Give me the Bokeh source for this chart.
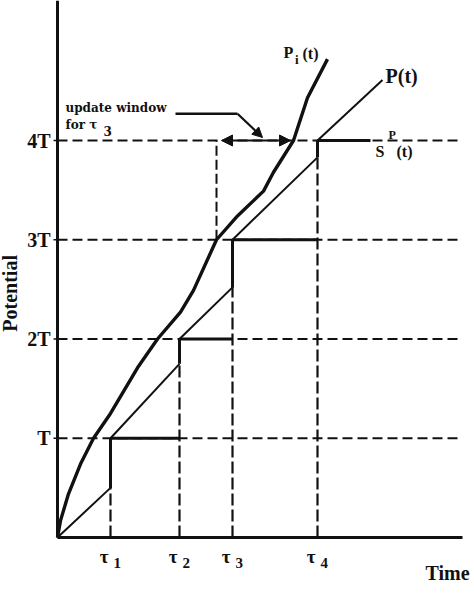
import math
from bokeh.plotting import figure
from bokeh.models import Range1d, Arrow, NormalHead
from bokeh.core.properties import value
from bokeh.embed import file_html
from bokeh.resources import INLINE

# ---------------- data ----------------
levels = [1, 2, 3, 4]
level_labels = ["T", "2T", "3T", "4T"]
tau = [0.53, 1.22, 1.75, 2.60]
tau_sub = ["1", "2", "3", "4"]
# P(t): each piece starts at the reached level and ends just before the next crossing
p_end_y = [0.50, 1.75, 2.52, 3.83, 4.61]
p_last_x = 3.25
# P_i(t): local potential
pi_t = [0.0, 0.03, 0.11, 0.23, 0.36, 0.53, 0.80, 1.00, 1.23, 1.36, 1.59,
        1.80, 2.06, 2.16, 2.36, 2.50, 2.70]
pi_v = [0.0, 0.17, 0.44, 0.74, 1.00, 1.25, 1.71, 2.00, 2.27, 2.49, 3.00,
        3.24, 3.49, 3.68, 4.00, 4.43, 4.82]
# update window for tau_3 (P_i crosses 3T and 4T)
win_left = 1.59
win_right = 2.36
sp_end = 3.13          # end of last S^P(t) step before its label
x_max = 4.05
caption = "Behavior of the local potential and system potential for the"

# ---------------- scale helpers (pixels -> data) ----------------
PX = 0.01
PY = 1 / 99.25

p = figure(width=474, height=598,
           x_range=Range1d(-57 * PX, 417 * PX),
           y_range=Range1d(-61 * PY, 537 * PY),
           output_backend="svg", toolbar_location=None,
           x_axis_location=None, y_axis_location=None, min_border=0)
p.outline_line_color = None
p.grid.visible = False
p.background_fill_color = "white"
p.border_fill_color = "white"

BLACK = "#111111"
SERIF = value("Liberation Serif")

# dashed level lines
p.segment(x0=[0] * len(levels), y0=levels, x1=[x_max] * len(levels), y1=levels,
          line_color=BLACK, line_width=2, line_dash="10 5")
# dashed vertical lines at tau_i
p.segment(x0=tau, y0=[0] * len(tau), x1=tau, y1=levels,
          line_color=BLACK, line_width=2.2, line_dash="12 4")
# dashed vertical left edge of update window
p.segment(x0=[win_left], y0=[levels[2]], x1=[win_left], y1=[levels[3]],
          line_color=BLACK, line_width=2, line_dash="10 4")

# S^P(t) steps (solid)
sx0 = tau
sx1 = tau[1:] + [sp_end]
p.segment(x0=sx0, y0=levels, x1=sx1, y1=levels, line_color=BLACK, line_width=3.2)
# jumps of P(t) at tau_i
p.segment(x0=tau, y0=p_end_y[:4], x1=tau, y1=levels, line_color=BLACK, line_width=3)

# P(t) pieces
p_start_x = [0] + tau
p_start_y = [0] + levels
p_end_x = tau + [p_last_x]
p.segment(x0=p_start_x, y0=p_start_y, x1=p_end_x, y1=p_end_y,
          line_color=BLACK, line_width=2)

# P_i(t)
p.line(pi_t, pi_v, line_color=BLACK, line_width=3.4, line_join="round")

# axes
p.line([0, 0], [0, 537 * PY], line_color=BLACK, line_width=3)
p.line([0, x_max], [0, 0], line_color=BLACK, line_width=3)
p.segment(x0=[-4 * PX] * 4, y0=levels, x1=[0] * 4, y1=levels, line_color=BLACK, line_width=1.5)

# update window double arrow
p.add_layout(Arrow(start=NormalHead(size=11, fill_color=BLACK, line_color=BLACK),
                   end=NormalHead(size=11, fill_color=BLACK, line_color=BLACK),
                   x_start=win_left + 5 * PX, y_start=levels[3],
                   x_end=win_right - 3 * PX, y_end=levels[3],
                   line_color=BLACK, line_width=2))
# pointer from label
p.line([1.18, 1.80], [4.27, 4.27], line_color=BLACK, line_width=2.5)
p.add_layout(Arrow(end=NormalHead(size=10, fill_color=BLACK, line_color=BLACK),
                   x_start=1.80, y_start=4.27, x_end=2.05, y_end=4.03,
                   line_color=BLACK, line_width=2.2))

# y tick labels
p.text(x=[-7 * PX] * 4, y=levels, text=level_labels, text_align="right",
       text_baseline="middle", text_font=SERIF, text_font_style="bold",
       text_font_size="20px", text_color=BLACK)
# x tick labels: tau with subscript
p.text(x=[t - 2 * PX for t in tau], y=[-19 * PY] * 4, text=["τ"] * 4,
       text_align="right", text_baseline="alphabetic", text_font=SERIF,
       text_font_style="bold", text_font_size="19px", text_color=BLACK)
p.text(x=[t + 3 * PX for t in tau], y=[-25 * PY] * 4, text=tau_sub,
       text_align="left", text_baseline="alphabetic", text_font=SERIF,
       text_font_style="bold", text_font_size="15px", text_color=BLACK)

# axis titles
p.text(x=[3.68], y=[-35 * PY], text=["Time"], text_align="left",
       text_baseline="alphabetic", text_font=SERIF, text_font_style="bold",
       text_font_size="20px", text_color=BLACK)
p.text(x=[-48 * PX], y=[2.46], text=["Potential"], angle=math.pi / 2,
       text_align="center", text_baseline="middle", text_font=SERIF,
       text_font_style="bold", text_font_size="20px", text_color=BLACK)

# curve labels
p.text(x=[3.28], y=[4.65], text=["P(t)"], text_font=SERIF, text_font_style="bold",
       text_font_size="20px", text_baseline="alphabetic", text_color=BLACK)
p.text(x=[2.26], y=[4.89], text=["P"], text_font=SERIF, text_font_style="bold",
       text_font_size="16px", text_baseline="alphabetic", text_color=BLACK)
p.text(x=[2.375], y=[4.82], text=["i"], text_font=SERIF, text_font_style="bold",
       text_font_size="13px", text_baseline="alphabetic", text_color=BLACK)
p.text(x=[2.45], y=[4.88], text=["(t)"], text_font=SERIF, text_font_style="bold",
       text_font_size="16px", text_baseline="alphabetic", text_color=BLACK)
p.text(x=[3.18], y=[3.89], text=["S"], text_font=SERIF, text_font_style="bold",
       text_font_size="16px", text_baseline="alphabetic", text_color=BLACK)
p.text(x=[3.31], y=[4.06], text=["P"], text_font=SERIF, text_font_style="bold",
       text_font_size="12px", text_baseline="alphabetic", text_color=BLACK)
p.text(x=[3.39], y=[3.89], text=["(t)"], text_font=SERIF, text_font_style="bold",
       text_font_size="16px", text_baseline="alphabetic", text_color=BLACK)

# update window annotation
ANN = value("DejaVu Serif")
p.text(x=[0.08], y=[4.33], text=["update window"], text_font=ANN, text_font_style="bold",
       text_font_size="12px", text_baseline="alphabetic", text_color=BLACK)
p.text(x=[0.08], y=[4.16], text=["for τ"], text_font=ANN, text_font_style="bold",
       text_font_size="12px", text_baseline="alphabetic", text_color=BLACK)
p.text(x=[0.46], y=[4.10], text=["3"], text_font=ANN, text_font_style="bold",
       text_font_size="12px", text_baseline="alphabetic", text_color=BLACK)

# figure caption (only its top shows, as in the source scan)
p.text(x=[-55 * PX], y=[-67 * PY], text=[caption], text_font=SERIF, text_font_style="bold",
       text_font_size="17px", text_baseline="alphabetic", text_color=BLACK)

open("out.html", "w").write(file_html(p, INLINE))
